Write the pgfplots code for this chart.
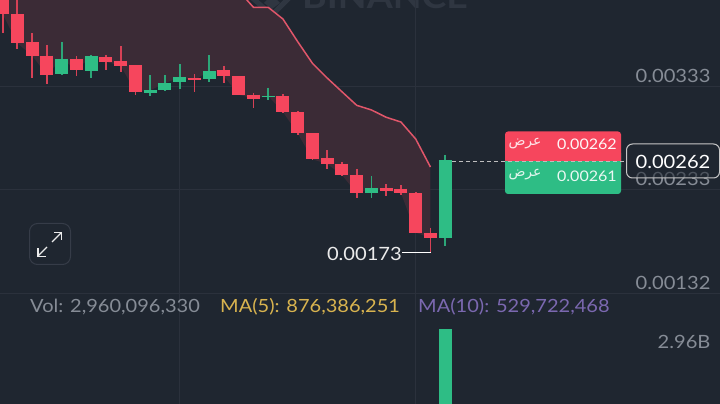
\documentclass[border=0pt]{standalone}
\usepackage{pgfplots}
\pgfplotsset{compat=1.18}
\usepackage{pgfplotstable}
\usepackage{fontspec}
\setmainfont[FakeStretch=1.1]{Lato}
\newfontfamily\arabicfont[Script=Arabic]{DejaVu Sans}
\TeXXeTstate=1
\definecolor{bgcol}{HTML}{1F2630}
\definecolor{gridcol}{HTML}{2B313C}
\definecolor{iconcol}{HTML}{363C48}
\definecolor{upcol}{HTML}{2EBD85}
\definecolor{downcol}{HTML}{F6465D}
\definecolor{malinecol}{HTML}{E0566A}
\definecolor{cloudcol}{HTML}{3B2B36}
\definecolor{greycol}{HTML}{868C96}
\definecolor{goldcol}{HTML}{D8B34F}
\definecolor{purplecol}{HTML}{7B68B0}
\definecolor{wmcol}{HTML}{2F3641}

% candles: index, body top, body bottom, high, low
\pgfplotstableread{
i top bot hi lo
0 0.004233 0.004039 0.004291 0.003851
1 0.004039 0.003754 0.004223 0.003696
2 0.003767 0.003634 0.003854 0.003414
3 0.003634 0.003446 0.003738 0.003356
5 0.003605 0.003495 0.003631 0.003437
7 0.003618 0.003573 0.003641 0.003495
8 0.003585 0.003537 0.003728 0.003479
9 0.003544 0.003279 0.003544 0.003252
13 0.003417 0.003395 0.003456 0.003284
15 0.003495 0.003434 0.003534 0.003372
16 0.003437 0.003255 0.003437 0.003252
17 0.003255 0.003216 0.003275 0.003123
19 0.003243 0.003087 0.003262 0.003075
20 0.003087 0.002880 0.003097 0.002867
21 0.002883 0.002628 0.002883 0.002621
22 0.002638 0.002582 0.002718 0.002534
23 0.002585 0.002475 0.002602 0.002463
24 0.002473 0.002298 0.002534 0.002255
26 0.002346 0.002323 0.002385 0.002274
27 0.002342 0.002301 0.002375 0.002278
28 0.002298 0.001915 0.002308 0.001915
29 0.001912 0.001864 0.001964 0.001730
}\downcandles
\pgfplotstableread{
i top bot hi lo
4 0.003605 0.003456 0.003767 0.003444
6 0.003628 0.003485 0.003641 0.003417
10 0.003298 0.003275 0.003446 0.003243
11 0.003366 0.003304 0.003446 0.003294
12 0.003424 0.003376 0.003553 0.003313
14 0.003485 0.003405 0.003638 0.003381
18 0.003243 0.003233 0.003323 0.003204
25 0.002346 0.002304 0.002466 0.002255
30 0.002620 0.001864 0.002670 0.001786
}\upcandles
% moving average line
\pgfplotstableread{
i ma
16 0.004262
17 0.004104
18 0.004104
19 0.003990
20 0.003770
21 0.003560
22 0.003417
23 0.003284
24 0.003152
25 0.003107
26 0.003036
27 0.002990
28 0.002825
29 0.002553
}\maline

\newcommand{\candles}[2]{%
  \addplot[draw=none, mark=none, forget plot,
    error bars/.cd, y dir=minus, y explicit, error mark=none,
    error bar style={draw=#2!85!bgcol, line width=1.9pt}]
    table[x=i, y=hi, y error expr=\thisrow{hi}-\thisrow{lo}] {#1};
  \addplot[draw=none, mark=none, forget plot,
    error bars/.cd, y dir=minus, y explicit, error mark=none,
    error bar style={draw=#2, line width=13pt}]
    table[x=i, y=top, y error expr=\thisrow{top}-\thisrow{bot}] {#1};
}
\newcommand{\txt}[1]{\fontsize{#1}{#1}\selectfont}

\begin{document}
\begin{tikzpicture}
\useasboundingbox (0,0) rectangle (720pt,404pt);
\fill[bgcol] (0,0) rectangle (720pt,404pt);

% watermark
\begin{scope}[x=1pt,y=-1pt,shift={(0pt,404pt)}]
\draw[wmcol, line width=5pt] (250,-4) -- (272,15) -- (291,-4);
\fill[wmcol] (272,-5) -- (280,3) -- (272,9) -- (264,3) -- cycle;
\node[anchor=base west, inner sep=0pt, text=wmcol, font=\txt{34}\bfseries] at (302,8.5) {BINANCE};
\end{scope}

\begin{axis}[
  at={(0,0)}, anchor=south west,
  scale only axis, width=720pt, height=404pt,
  xmin=-0.183, xmax=48.63,
  ymin=0.0002519, ymax=0.00417478,
  axis line style={draw=none},
  major tick length=0pt,
  xtick={12,28}, xticklabels={},
  ytick={0.00132,0.00233,0.00333},
  yticklabels={0.00132,0.00233,0.00333},
  grid=major, grid style={gridcol, line width=1pt},
  yticklabel pos=right,
  yticklabel style={anchor=east, xshift=-6pt, yshift=11pt, text=greycol, font=\txt{18.3}},
]
% cloud between the moving average and the closes
\addplot[fill=cloudcol, draw=none, forget plot] coordinates {
  (-1,0.0045) (16,0.004262) (17,0.004104) (18,0.004104) (19,0.003990) (20,0.003770)
  (21,0.003560) (22,0.003417) (23,0.003284) (24,0.003152) (25,0.003107) (26,0.003036)
  (27,0.002990) (28,0.002825) (29,0.002553)
  (29,0.001864) (28,0.001915) (27,0.002301) (26,0.002323) (25,0.002346) (24,0.002298)
  (23,0.002475) (22,0.002582) (21,0.002628) (20,0.002880) (19,0.003087) (18,0.003243)
  (17,0.003216) (16,0.003255) (15,0.003434) (14,0.003485) (13,0.003395) (12,0.003424)
  (11,0.003366) (10,0.003298) (9,0.003279) (8,0.003537) (7,0.003573) (6,0.003628)
  (5,0.003495) (4,0.003605) (3,0.003446) (2,0.003634) (1,0.003754) (0,0.004039) (-1,0.0041)
} -- cycle;
\addplot[malinecol, line width=1.5pt, mark=none, forget plot] table[x=i, y=ma] {\maline};
\candles{\downcandles}{downcol}
\candles{\upcandles}{upcol}
\end{axis}

% volume panel
\begin{axis}[
  at={(0,0)}, anchor=south west,
  scale only axis, width=720pt, height=110pt,
  xmin=-0.183, xmax=48.63,
  ymin=0, ymax=4340000000,
  axis line style={draw=none},
  major tick length=0pt,
  xtick=\empty,
  ytick={2960096330}, yticklabels={2.96B},
  scaled y ticks=false,
  yticklabel pos=right,
  yticklabel style={anchor=east, xshift=-6pt, yshift=-13pt, text=greycol, font=\txt{18.3}},
]
\addplot[ybar, bar width=13pt, fill=upcol, draw=none, forget plot] coordinates {(30,2960096330)};
\end{axis}

% overlay elements in picture pixels
\begin{scope}[x=1pt,y=-1pt,shift={(0pt,404pt)}]
\draw[white, line width=0.9pt] (402,252.3) -- (431,252.3);
\node[anchor=east, inner sep=0pt, text=white!92!black, font=\txt{18.3}] at (402,254) {0.00173};

\fill[downcol, rounded corners=3pt] (505,131.5) rectangle (621,170);
\fill[upcol, rounded corners=3pt] (505,150) rectangle (621,194);
\fill[downcol] (505,140) rectangle (621,161.5);
\node[anchor=east, inner sep=0pt, text=white!95!downcol, font=\txt{14.6}] at (617,144.5) {0.00262};
\node[anchor=east, inner sep=0pt, text=white!90!upcol, font=\txt{14.6}] at (617,176) {0.00261};
\node[anchor=center, inner sep=0pt, text=white!85!downcol, font=\txt{14}\arabicfont] at (525,144) {\beginR عرض\endR};
\node[anchor=center, inner sep=0pt, text=white!85!upcol, font=\txt{14}\arabicfont] at (525,175) {\beginR عرض\endR};
\draw[white!75!black, dash pattern=on 4pt off 3pt, line width=0.9pt] (452,161) -- (626,161);

\draw[white!78!black, line width=1pt, fill=bgcol, fill opacity=0.55, rounded corners=6pt] (626.5,144) rectangle (719.5,178);
\node[anchor=center, inner sep=0pt, text=white, font=\txt{18.3}] at (673,162) {0.00262};

\draw[iconcol, line width=1pt, rounded corners=8pt] (29.5,223.5) rectangle (70.5,264.5);
\draw[white!92!black, line width=1.4pt] (47,247) -- (38,256);
\draw[white!92!black, line width=1.4pt] (38,248.5) -- (38,256.5) -- (46,256.5);
\draw[white!92!black, line width=1.4pt] (52,242) -- (61.5,232.5);
\draw[white!92!black, line width=1.4pt] (54,232.5) -- (61.5,232.5) -- (61.5,240);

\node[anchor=west, inner sep=0pt, text=greycol, font=\txt{18.2}] at (30,307) {Vol: 2,960,096,330};
\node[anchor=west, inner sep=0pt, text=goldcol, font=\txt{18.2}] at (220,307) {MA(5): 876,386,251};
\node[anchor=west, inner sep=0pt, text=purplecol, font=\txt{18.2}] at (418,307) {MA(10): 529,722,468};
\end{scope}
\end{tikzpicture}
\end{document}
